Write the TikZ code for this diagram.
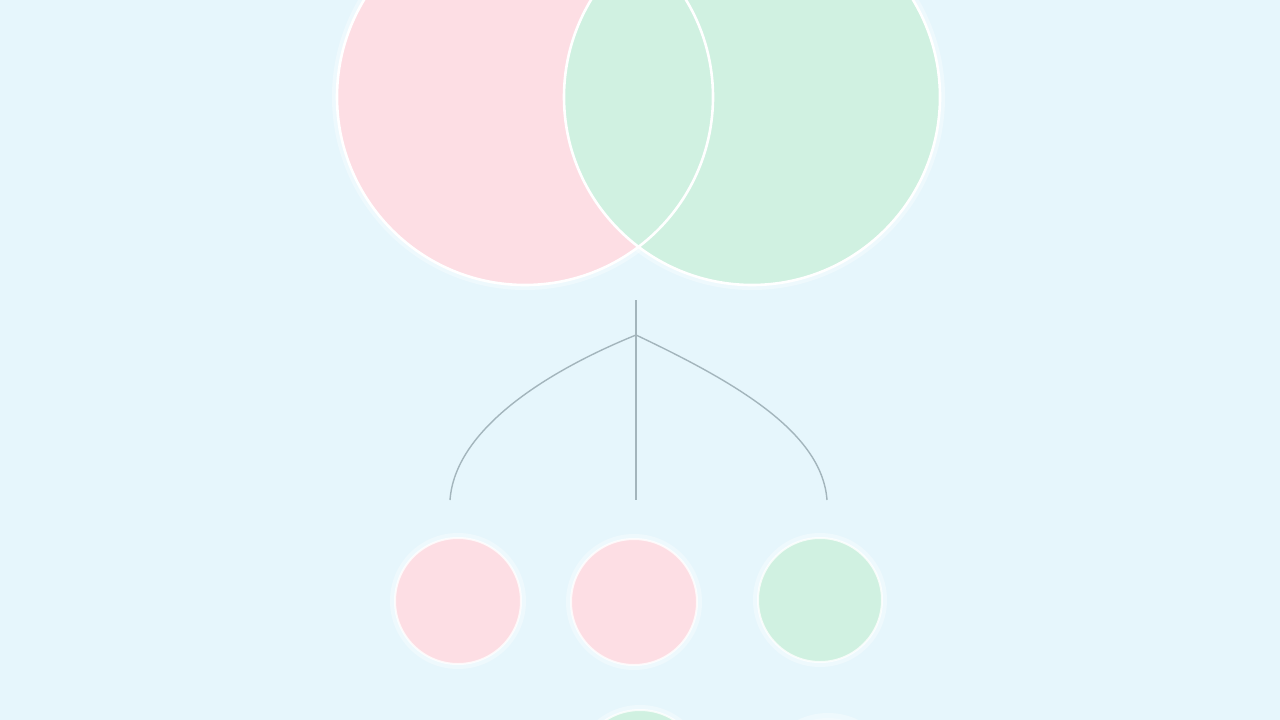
\documentclass[tikz,border=0pt]{standalone}
\definecolor{bg}{HTML}{E6F6FC}
\definecolor{pinkf}{HTML}{FDDEE4}
\definecolor{greenf}{HTML}{D0F1E1}
\definecolor{linec}{HTML}{A3B5BC}
\begin{document}
\begin{tikzpicture}[x=1pt,y=-1pt,
  glow/.style={draw=white, line width=10pt, opacity=0.35},
  rim/.style={draw=white, line width=2.6pt},
  blob/.style={circle, inner sep=0pt, outer sep=0pt, minimum size=#1},
  branch/.style={draw=linec, line width=1.4pt}]
\fill[bg] (0,0) rectangle (1280,720);
\useasboundingbox (0,0) rectangle (1280,720);
% centres
\coordinate (cA) at (525,97);
\coordinate (cB) at (752,97);
\coordinate (c1) at (458,601);
\coordinate (c2) at (634,602);
\coordinate (c3) at (820,600);
\coordinate (c4) at (640,773);
\coordinate (c5) at (828,782);
% glows
\foreach \c/\r in {cA/188,cB/188,c1/63,c2/63,c3/62,c4/63,c5/64}
  \draw[glow] (\c) circle (\r pt);
% big Venn circles
\node[blob=376pt, fill=pinkf] (A) at (cA) {};
\node[blob=376pt, fill=greenf] (B) at (cB) {};
\draw[rim] (cA) circle (188pt);
\draw[rim] (cB) circle (188pt);
% small circles
\node[blob=126pt, fill=pinkf] (S1) at (c1) {};
\node[blob=126pt, fill=pinkf] (S2) at (c2) {};
\node[blob=124pt, fill=greenf] (S3) at (c3) {};
\node[blob=126pt, fill=greenf] (S4) at (c4) {};
\node[blob=128pt, fill=white, fill opacity=0.25] (S5) at (c5) {};
\foreach \c/\r in {c1/63,c2/63,c3/62,c4/63}
  \draw[draw=white, line width=2pt, opacity=0.8] (\c) circle (\r pt);
% branch connectors
\coordinate (top) at (636,300);
\coordinate (fork) at (636,335);
\coordinate (mid) at (636,500);
\coordinate (lend) at (450,500);
\coordinate (rend) at (827,500);
\draw[branch] (top) -- (mid);
\draw[branch] (fork) .. controls (545,372) and (455,430) .. (lend);
\draw[branch] (fork) .. controls (735,382) and (822,432) .. (rend);
\end{tikzpicture}
\end{document}
